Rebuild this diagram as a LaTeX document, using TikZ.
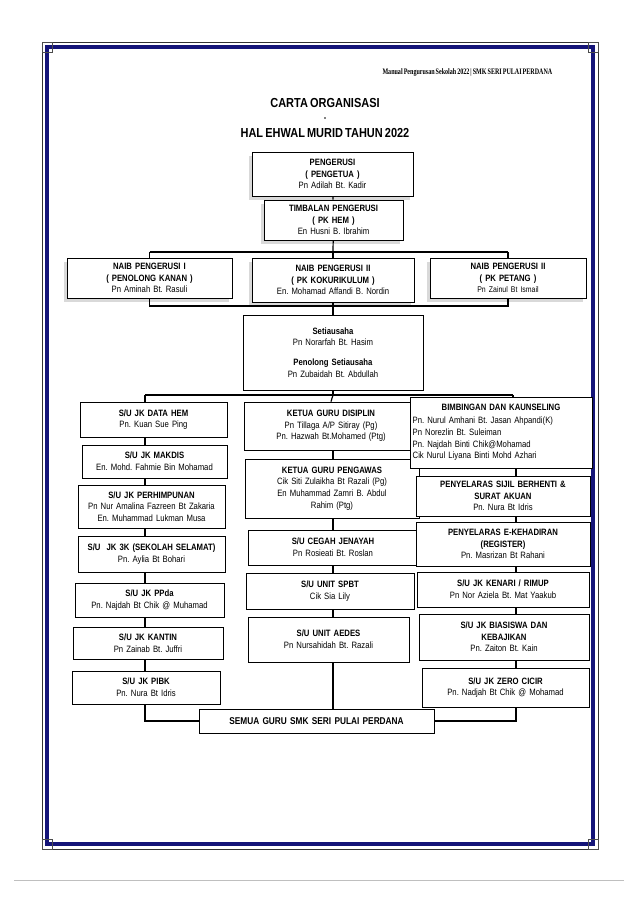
\documentclass[tikz,border=0pt]{standalone}
\usepackage{fontspec}
\setmainfont{Liberation Sans}[FakeStretch=0.84,WordSpace=0.7]
\newfontfamily\hdrfont{Liberation Serif}[FakeStretch=0.72,WordSpace=0.7]
\definecolor{frameblue}{RGB}{20,20,120}
\frenchspacing
\begin{document}
\begin{tikzpicture}[x=0.75pt,y=-0.75pt,
  base/.style={draw=black,line width=0.6pt,fill=white,inner sep=1pt,font=\fontsize{6.9}{8.7}\selectfont},
  box/.style={base,align=center},
  sz/.style 2 args={minimum width=#1*0.75pt,minimum height=#2*0.75pt,text width=#1*0.75pt-4pt},
  ln/.style={line width=0.9pt}]
\useasboundingbox (0,0) rectangle (638,902);
% frame
\draw[frameblue,line width=3.2pt] (47,47) rectangle (593,844);
\draw[black!80,line width=0.4pt] (42,42) rectangle (598,849);
\draw[black!70,line width=0.4pt] (42,42) rectangle (52,52) (588,42) rectangle (598,52) (42,839) rectangle (52,849) (588,839) rectangle (598,849);
\draw[black!25,line width=0.6pt] (14,880) -- (624,880);
% titles
\node[font=\hdrfont\bfseries\fontsize{6.3}{7}\selectfont,anchor=east] (hdr) at (557,73) {Manual Pengurusan Sekolah 2022 | SMK SERI PULAI PERDANA};
\node[font=\bfseries\fontsize{9.8}{11}\selectfont] (t1) at (325,103) {CARTA ORGANISASI};
\fill (325,118) circle (0.9);
\node[font=\bfseries\fontsize{9.8}{11}\selectfont] (t2) at (325,133) {HAL EHWAL MURID TAHUN 2022};
% top
\fill[black!15] (249,156) rectangle (410,200);
\node[box,sz={161}{44}] (p) at (332.5,174) {\textbf{PENGERUSI}\\\textbf{( PENGETUA )}\\Pn Adilah Bt. Kadir};
\fill[black!15] (261,204) rectangle (400,244);
\node[box,sz={139}{40}] (tp) at (333.5,220) {\textbf{TIMBALAN PENGERUSI}\\\textbf{( PK HEM )}\\En Husni B. Ibrahim};
\fill[black!15] (64,262) rectangle (229,302);
\fill[black!15] (249,262) rectangle (411,306);
\fill[black!15] (427,262) rectangle (583,302);
\node[box,sz={165}{40}] (n1) at (149.5,278) {\textbf{NAIB PENGERUSI I}\\\textbf{( PENOLONG KANAN )}\\Pn Aminah Bt. Rasuli};
\node[box,sz={162}{44}] (n2) at (333,280) {\textbf{NAIB PENGERUSI II}\\\textbf{( PK KOKURIKULUM )}\\En. Mohamad Affandi B. Nordin};
\node[box,sz={156}{40}] (n3) at (508,278) {\textbf{NAIB PENGERUSI II}\\\textbf{( PK PETANG )}\\{\fontsize{6.2}{8}\selectfont Pn Zainul Bt Ismail}};
\coordinate (b1) at (333,252);
\draw[ln] (p) -- (tp);
\draw[ln] (tp) -- (b1);
\draw[ln] (n1.north|-b1) -- (n3.north|-b1);
\draw[ln] (n1.north|-b1) -- (n1.north);
\draw[ln] (n3.north|-b1) -- (n3.north);
\draw[ln] (b1) -- (n2.north);
\coordinate (b2) at (333,306);
\draw[ln] (n1.south) -- (n1.south|-b2) -- (n3.south|-b2) -- (n3.south);
\draw[ln] (n2.south) -- (b2);
\node[box,sz={180}{75}] (s) at (333,352.5) {\textbf{Setiausaha}\\Pn Norarfah Bt. Hasim\\[6pt]\textbf{Penolong Setiausaha}\\Pn Zubaidah Bt. Abdullah};
\draw[ln] (b2) -- (s.north);
\coordinate (b3) at (333,395);
\draw[ln] (s.south) -- (b3);
% left column
\node[box,sz={147}{35}] (l1) at (153.5,419.5) {\textbf{S/U JK DATA HEM}\\Pn. Kuan Sue Ping};
\node[box,sz={145}{33}] (l2) at (154.5,461.5) {\textbf{S/U JK MAKDIS}\\En. Mohd. Fahmie Bin Mohamad};
\node[box,sz={147}{43}] (l3) at (151.5,506.5) {\textbf{S/U JK PERHIMPUNAN}\\Pn Nur Amalina Fazreen Bt Zakaria\\En. Muhammad Lukman Musa};
\node[box,sz={147}{36}] (l4) at (151.5,554) {\textbf{S/U \ JK 3K (SEKOLAH SELAMAT)}\\Pn. Aylia Bt Bohari};
\node[box,sz={149}{34}] (l5) at (149.5,600) {\textbf{S/U JK PPda}\\Pn. Najdah Bt Chik @ Muhamad};
\node[box,sz={150}{32}] (l6) at (148,643) {\textbf{S/U JK KANTIN}\\Pn Zainab Bt. Juffri};
\node[box,sz={148}{33}] (l7) at (146,687.5) {\textbf{S/U JK PIBK}\\Pn. Nura Bt Idris};
% middle column
\node[box,sz={174}{48}] (m1) at (331,426) {\textbf{KETUA GURU DISIPLIN}\\Pn Tillaga A/P Sitiray (Pg)\\Pn. Hazwah Bt.Mohamed (Ptg)};
\node[box,sz={174}{59}] (m2) at (332,488.5) {\textbf{KETUA GURU PENGAWAS}\\Cik Siti Zulaikha Bt Razali (Pg)\\En Muhammad Zamri B. Abdul\\Rahim (Ptg)};
\node[box,sz={170}{35}] (m3) at (333,547.5) {\textbf{S/U CEGAH JENAYAH}\\Pn Rosieati Bt. Roslan};
\node[box,sz={168}{36}] (m4) at (330,591) {\textbf{S/U UNIT SPBT}\\Cik Sia Lily};
\node[box,sz={161}{45}] (m5) at (328.5,639.5) {\textbf{S/U UNIT AEDES}\\Pn Nursahidah Bt. Razali};
% right column
\node[base,sz={182}{71}] (r1) at (501,432.5) {{\centering\textbf{BIMBINGAN DAN KAUNSELING}\par}\vspace{1pt}\raggedright Pn. Nurul Amhani Bt. Jasan Ahpandi(K)\\Pn Norezlin Bt. Suleiman\\Pn. Najdah Binti Chik@Mohamad\\Cik Nurul Liyana Binti Mohd Azhari\par};
\node[box,sz={174}{40}] (r2) at (503,496) {\textbf{PENYELARAS SIJIL BERHENTI \&}\\\textbf{SURAT AKUAN}\\Pn. Nura Bt Idris};
\node[box,sz={174}{44}] (r3) at (503,544) {\textbf{PENYELARAS E-KEHADIRAN}\\\textbf{(REGISTER)}\\Pn. Masrizan Bt Rahani};
\node[box,sz={172}{35}] (r4) at (503,589.5) {\textbf{S/U JK KENARI / RIMUP}\\Pn Nor Aziela Bt. Mat Yaakub};
\node[box,sz={170}{46}] (r5) at (504,637) {\textbf{S/U JK BIASISWA DAN}\\\textbf{KEBAJIKAN}\\Pn. Zaiton Bt. Kain};
\node[box,sz={167}{39}] (r6) at (505.5,687.5) {\textbf{S/U JK ZERO CICIR}\\Pn. Nadjah Bt Chik @ Mohamad};
% bottom
\node[box,sz={235}{24},font=\bfseries\fontsize{7.4}{9}\selectfont] (all) at (316.5,721) {SEMUA GURU SMK SERI PULAI PERDANA};
% connectors
\coordinate (lx) at (145,395);
\coordinate (rx) at (513,395);
\draw[ln] (lx) -- (rx);
\draw[ln] (b3) -- (m1.north);
\draw[ln] (lx) -- (lx|-l1.north);
\draw[ln] (rx) -- (rx|-r1.north);
\foreach \a/\b in {l1/l2,l2/l3,l3/l4,l4/l5,l5/l6,l6/l7}{\draw[ln] (lx|-\a.south) -- (lx|-\b.north);}
\foreach \a/\b in {m1/m2,m2/m3,m3/m4,m4/m5}{\draw[ln] (333,0|-\a.south) -- (333,0|-\b.north);}
\foreach \a/\b in {r1/r2,r2/r3,r3/r4,r4/r5,r5/r6}{\draw[ln] (516,0|-\a.south) -- (516,0|-\b.north);}
\draw[ln] (lx|-l7.south) |- (all.west);
\draw[ln] (516,0|-r6.south) |- (all.east);
\draw[ln] (333,0|-m5.south) -- (333,0|-all.north);
\end{tikzpicture}
\end{document}
